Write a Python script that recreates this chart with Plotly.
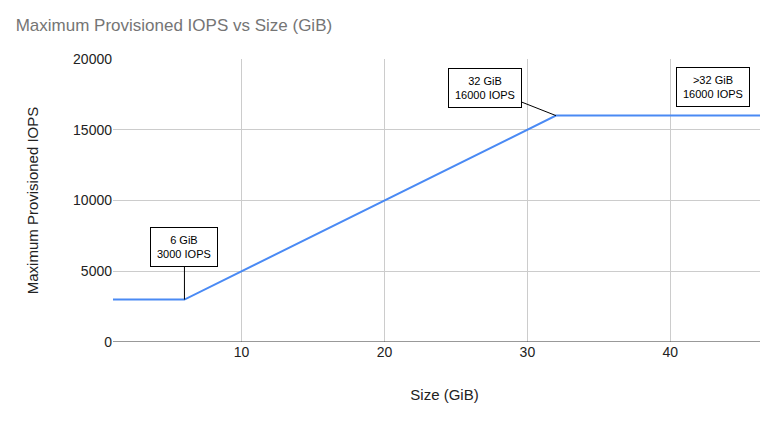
import plotly.graph_objects as go

size_gib = [1, 6, 32, 47.4]
iops = [3000, 3000, 16000, 16000]

fig = go.Figure()
fig.add_trace(go.Scatter(x=size_gib, y=iops, mode="lines",
                         line=dict(color="#4a8af4", width=2), showlegend=False))

box = dict(showarrow=True, arrowhead=0, arrowwidth=1, arrowcolor="#000",
           bgcolor="white", bordercolor="#000", borderwidth=1, borderpad=6,
           font=dict(size=11, color="#000"), xref="x", yref="y")
fig.add_annotation(x=6, y=3000, text="6 GiB<br>3000 IOPS", ax=0, ay=-53, **box)
fig.add_annotation(x=32, y=16000, text="32 GiB<br>16000 IOPS", ax=-71, ay=-28, **box)
fig.add_annotation(x=43, y=18000, text=">32 GiB<br>16000 IOPS", showarrow=False,
                   bgcolor="white", bordercolor="#000", borderwidth=1, borderpad=6,
                   font=dict(size=11, color="#000"))

fig.update_layout(
    width=768, height=431, plot_bgcolor="white", paper_bgcolor="white",
    font=dict(family="Liberation Sans, Arial", color="#222"),
    margin=dict(l=105, r=0, t=51, b=97, autoexpand=False),
    title=dict(text="Maximum Provisioned IOPS vs Size (GiB)", x=0.01, y=0.975,
               xanchor="left", yanchor="top", font=dict(size=17, color="#757575")),
    xaxis=dict(range=[1, 47.4], tickvals=[10, 20, 30, 40], showgrid=True,
               gridcolor="#ccc", zeroline=False, automargin=False,
               title=dict(text="Size (GiB)", font=dict(size=15), standoff=30),
               tickfont=dict(size=14)),
    yaxis=dict(range=[0, 20000], tickvals=[0, 5000, 10000, 15000, 20000], showgrid=True,
               gridcolor="#ccc", zeroline=False, tickformat="d", automargin=False,
               title=dict(text="Maximum Provisioned IOPS", font=dict(size=15), standoff=30),
               tickfont=dict(size=14)),
)
fig.add_shape(type="line", xref="x", yref="y", x0=1, x1=47.4, y0=0, y1=0,
              line=dict(color="#333", width=1))

fig.write_html("out.html")
